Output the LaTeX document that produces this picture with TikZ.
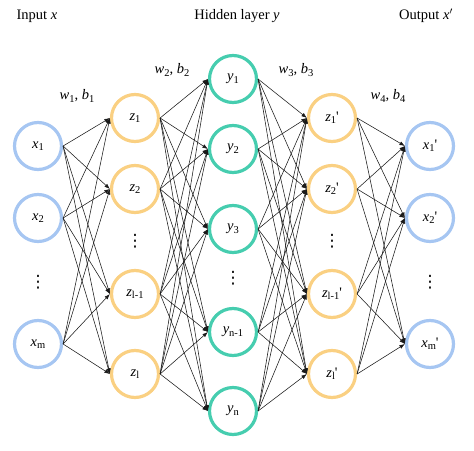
\documentclass[tikz,border=0pt]{standalone}
\usepackage{fontspec}
\setmainfont{Liberation Serif}
\newfontfamily\dejavu{DejaVu Sans}
\usetikzlibrary{arrows.meta}
\definecolor{cblue}{RGB}{166,198,242}
\definecolor{corange}{RGB}{250,208,130}
\definecolor{cteal}{RGB}{70,205,175}
\newcommand\sbs[1]{\raisebox{-0.35ex}{\fontsize{10.5}{10.5}\selectfont #1}}
\newcommand\prm{\textquotesingle}
\tikzset{
  neuron/.style={circle, line width=3.2pt, minimum size=47pt, inner sep=0pt, font=\fontsize{14.5}{14.5}\selectfont},
  inp/.style={neuron, draw=cblue},
  hid/.style={neuron, draw=corange},
  mid/.style={neuron, draw=cteal},
  conn/.style={line width=0.55pt, draw=black!90, -{Latex[length=5.5pt,width=4pt]}},
  ttl/.style={font=\fontsize{14.5}{14.5}\selectfont, inner sep=0pt},
  wl/.style={font=\fontsize{14.5}{14.5}\selectfont, inner sep=0pt},
  vdt/.style={font=\dejavu\fontsize{17}{17}\selectfont, inner sep=0pt}
}
\begin{document}
\begin{tikzpicture}[x=1pt,y=-1pt]
\useasboundingbox (0,0) rectangle (474,450);
% titles
\node[ttl] (t1) at (37,16) {Input \textit{x}};
\node[ttl] (t2) at (237,16) {Hidden layer \textit{y}};
\node[ttl] (t3) at (426,16) {Output \textit{x}$'$};
% weight labels
\node[wl] (w1) at (77,96) {\textit{w}\sbs{1}, \textit{b}\sbs{1}};
\node[wl] (w2) at (172,70) {\textit{w}\sbs{2}, \textit{b}\sbs{2}};
\node[wl] (w3) at (296,70) {\textit{w}\sbs{3}, \textit{b}\sbs{3}};
\node[wl] (w4) at (388,96) {\textit{w}\sbs{4}, \textit{b}\sbs{4}};
% input layer
\node[inp] (a1) at (38,146) {\textit{x}\sbs{1}};
\node[inp] (a2) at (38,218) {\textit{x}\sbs{2}};
\node[inp] (a3) at (38,344) {\textit{x}\sbs{m}};
\node[vdt] (ad) at (38,282) {⋮};
% encoder hidden
\node[hid] (b1) at (135,118) {\textit{z}\sbs{1}};
\node[hid] (b2) at (135,189) {\textit{z}\sbs{2}};
\node[hid] (b3) at (135,294) {\textit{z}\sbs{l-1}};
\node[hid] (b4) at (135,374) {\textit{z}\sbs{l}};
\node[vdt] (bd) at (135,241) {⋮};
% code layer
\node[mid] (c1) at (233,79) {\textit{y}\sbs{1}};
\node[mid] (c2) at (233,149) {\textit{y}\sbs{2}};
\node[mid] (c3) at (233,229) {\textit{y}\sbs{3}};
\node[mid] (c4) at (233,332) {\textit{y}\sbs{n-1}};
\node[mid] (c5) at (233,411) {\textit{y}\sbs{n}};
\node[vdt] (cd) at (233,278) {⋮};
% decoder hidden
\node[hid] (d1) at (332,118) {\textit{z}\sbs{1}\prm};
\node[hid] (d2) at (332,189) {\textit{z}\sbs{2}\prm};
\node[hid] (d3) at (332,294) {\textit{z}\sbs{l-1}\prm};
\node[hid] (d4) at (332,374) {\textit{z}\sbs{l}\prm};
\node[vdt] (dd) at (332,241) {⋮};
% output
\node[inp] (e1) at (430,146) {\textit{x}\sbs{1}\prm};
\node[inp] (e2) at (430,218) {\textit{x}\sbs{2}\prm};
\node[inp] (e3) at (430,344) {\textit{x}\sbs{m}\prm};
\node[vdt] (ed) at (430,282) {⋮};
% connections
\foreach \i in {1,2,3}{\foreach \j in {1,2,3,4}{\draw[conn] (a\i.east) -- (b\j.west);}}
\foreach \i in {1,2,3,4}{\foreach \j in {1,2,3,4,5}{\draw[conn] (b\i.east) -- (c\j.west);}}
\foreach \i in {1,2,3,4,5}{\foreach \j in {1,2,3,4}{\draw[conn] (c\i.east) -- (d\j.west);}}
\foreach \i in {1,2,3,4}{\foreach \j in {1,2,3}{\draw[conn] (d\i.east) -- (e\j.west);}}
\end{tikzpicture}
\end{document}
